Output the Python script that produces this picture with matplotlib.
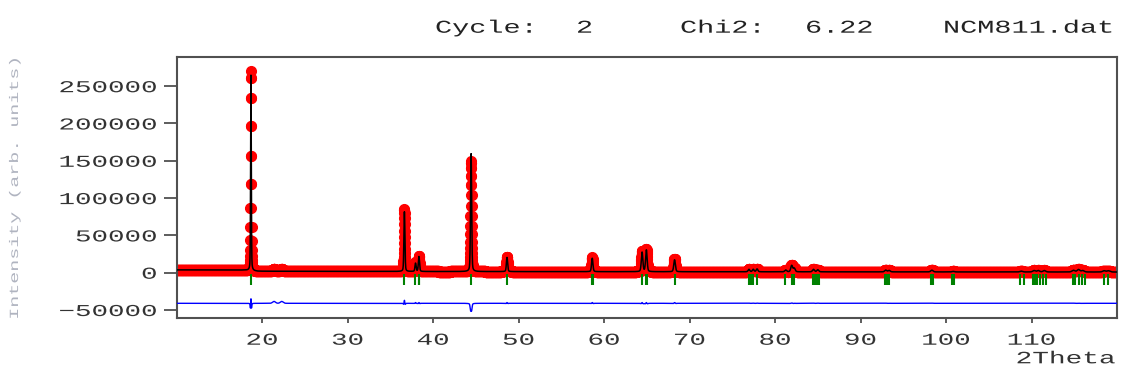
import numpy as np
import matplotlib
matplotlib.use('Agg')
import matplotlib.pyplot as plt
from matplotlib.patheffects import AbstractPathEffect
from matplotlib.transforms import Affine2D

# Rietveld fit of NCM811

# peaks: 2theta, observed height, calculated height, fwhm (deg)
peak_pos = [18.70, 36.65, 37.95, 38.35, 44.45, 48.65, 58.62, 64.45, 64.95, 68.25,
            76.95, 77.45, 77.90, 81.25, 81.95, 82.25, 84.50, 85.00, 92.95, 93.35,
            98.35, 100.85, 108.80, 110.30, 110.80, 111.50, 114.90, 115.50, 116.00,
            118.50, 119.00]
obs_height = [268000, 84000, 12000, 21000, 148000, 20000, 19000, 27000, 30000, 17000,
              3500, 3500, 4000, 2500, 9000, 5000, 3500, 3000, 2500, 2000,
              2500, 800, 1200, 2000, 2000, 2000, 2500, 3500, 2000,
              1800, 1800]
calc_height = [262000, 80000, 11000, 20000, 158000, 19000, 18000, 26000, 29000, 16000,
               3300, 3300, 3800, 2400, 8500, 4800, 3300, 2800, 2300, 1900,
               2300, 700, 1100, 1900, 1900, 1900, 2300, 3300, 1900,
               1700, 1700]
peak_fwhm = [0.09, 0.13, 0.15, 0.15, 0.14, 0.16, 0.18, 0.20, 0.20, 0.21,
             0.22, 0.22, 0.22, 0.24, 0.24, 0.24, 0.25, 0.25, 0.28, 0.28,
             0.30, 0.30, 0.34, 0.34, 0.34, 0.34, 0.36, 0.36, 0.36,
             0.38, 0.38]

# small bumps only in the observed pattern
extra_pos = [21.4, 22.3]
extra_height = [2500, 2500]

# background level
bg_pos = [10, 18.0, 19.5, 40, 80, 120]
bg_level = [3800, 3500, 2000, 1600, 1200, 900]

# Bragg reflections (green ticks)
bragg_pos = [18.70, 36.65, 37.90, 38.30, 38.40, 44.45, 48.65, 58.55, 58.70,
             64.45, 64.90, 65.05, 68.25, 76.90, 77.15, 77.45, 77.90,
             81.20, 81.95, 82.20, 84.40, 84.70, 84.95, 85.20,
             92.85, 93.05, 93.35, 98.20, 98.50, 100.70, 100.95,
             108.70, 109.10, 110.20, 110.45, 110.70, 111.00, 111.35, 111.70,
             114.80, 115.10, 115.50, 115.90, 116.20, 118.50, 119.00]

# header fields of the FullProf window
header_text = ['Cycle:', '2', 'Chi2:', '6.22', 'NCM811.dat']

diff_offset = -41000
step = 0.01


class Widen(AbstractPathEffect):
    # the old FullProf screen font is stretched sideways
    def __init__(self, sx, anchor='left'):
        super().__init__()
        self.sx = sx
        self.anchor = anchor

    def draw_path(self, renderer, gc, tpath, affine, rgbFace=None):
        ext = tpath.get_extents()
        if self.anchor == 'right':
            x0 = ext.x1
        elif self.anchor == 'center':
            x0 = (ext.x0 + ext.x1) / 2
        else:
            x0 = 0
        stretch = Affine2D().translate(-x0, 0).scale(self.sx, 1).translate(x0, 0)
        renderer.draw_path(gc, tpath, stretch + affine, rgbFace)


def pseudo_voigt(x, pos, fwhm, eta=0.3):
    hw = fwhm / 2
    gauss = np.exp(-np.log(2) * ((x - pos) / hw) ** 2)
    lor = 1 / (1 + ((x - pos) / hw) ** 2)
    return eta * lor + (1 - eta) * gauss


def make_profiles():
    tth = np.arange(10.0, 120.0 + step, step)
    bg = np.interp(tth, bg_pos, bg_level)
    obs = bg.copy()
    calc = bg.copy()
    for p, ho, hc, w in zip(peak_pos, obs_height, calc_height, peak_fwhm):
        obs += ho * pseudo_voigt(tth, p, w)
        calc += hc * pseudo_voigt(tth, p, w * 1.05)
    for p, h in zip(extra_pos, extra_height):
        obs += h * pseudo_voigt(tth, p, 0.4, eta=0.0)
    return tth, obs, calc


def main():
    font = 'Liberation Mono'
    tth, obs, calc = make_profiles()

    fig = plt.figure(figsize=(11.3, 3.7), dpi=100)
    ax = fig.add_axes([177 / 1130, 52 / 370, 940 / 1130, 261.5 / 370])

    ax.plot(tth, obs, 'o', color='#ff0000', ms=7, mec='#ff0000', zorder=2)
    ax.plot(tth, calc, color='black', lw=1.1, zorder=3)
    ax.vlines(bragg_pos, -16000, -2000, color='#008000', lw=1.5, zorder=3)
    ax.plot(tth, obs - calc + diff_offset, color='#0000ff', lw=1.0, zorder=3)

    ax.set_xlim(10.05, 120)
    ax.set_ylim(-60700, 289800)
    ax.set_xticks(np.arange(20, 111, 10))
    ax.set_yticks(np.arange(-50000, 250001, 50000))

    for sp in ax.spines.values():
        sp.set_color('#505050')
        sp.set_linewidth(1.5)
    ax.tick_params(axis='y', length=9.5, width=1.3, color='#505050', pad=5,
                   labelsize=12, labelcolor='#333333')
    ax.tick_params(axis='x', length=3.6, width=1.3, color='#505050', pad=7,
                   labelsize=12, labelcolor='#333333')
    for lab in ax.get_yticklabels():
        lab.set_fontfamily(font)
        lab.set_path_effects([Widen(1.65, 'right')])
    for lab in ax.get_xticklabels():
        lab.set_fontfamily(font)
        lab.set_path_effects([Widen(1.65, 'center')])

    # header line, one field at a time like the FullProf window
    header_x = [435, 576, 680, 805, 943]
    for s, xp in zip(header_text, header_x):
        fig.text(xp / 1130, (370 - 32.7) / 370, s,
                 family=font, fontsize=13, color='#222222', ha='left', va='baseline',
                 path_effects=[Widen(1.58, 'left')])
    fig.text(1115 / 1130, (370 - 363.3) / 370, '2Theta',
             family=font, fontsize=12.5, color='#333333', ha='right', va='baseline',
             path_effects=[Widen(1.6, 'right')])
    fig.text(15 / 1130, (370 - 188) / 370, 'Intensity (arb. units)',
             family=font, fontsize=9, color='#b0b4c0', rotation=90,
             ha='center', va='center', path_effects=[Widen(1.6, 'center')])

    fig.savefig('out.png', dpi=100)


if __name__ == '__main__':
    main()
